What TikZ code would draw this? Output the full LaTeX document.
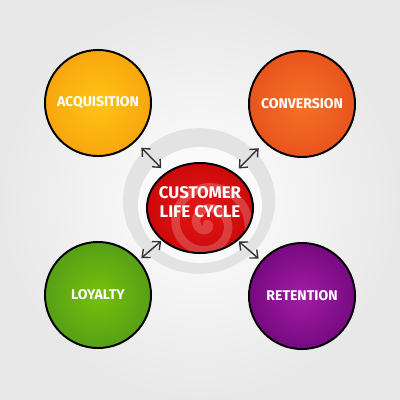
\documentclass[tikz,border=0pt]{standalone}
\usepackage{fontspec}
\setmainfont{Fira Sans}
\usepackage{tikz}
\usetikzlibrary{arrows.meta, shapes.geometric, calc}
\definecolor{acqin}{HTML}{FFC414}
\definecolor{acqout}{HTML}{F8A60E}
\definecolor{conin}{HTML}{F47228}
\definecolor{conout}{HTML}{E9541C}
\definecolor{loyin}{HTML}{78C00C}
\definecolor{loyout}{HTML}{55A016}
\definecolor{retin}{HTML}{A21CA6}
\definecolor{retout}{HTML}{760A80}
\definecolor{lcin}{HTML}{E41616}
\definecolor{lcout}{HTML}{CC0A0A}

\begin{document}
\begin{tikzpicture}[x=0.025cm, y=-0.025cm,
			>={Straight Barb[length=4.5pt,width=8pt]},
			stage/.style={circle, draw=black, line width=1.4pt, minimum size=2.65cm,
				text=white, font=\bfseries\fontsize{10}{12}\selectfont},
			link/.style={<->, draw=black!80, line width=1pt}]
			\useasboundingbox (0,0) rectangle (400,400);
			\shade[inner color=white, outer color=black!9] (0,0) rectangle (400,400);
			\fill[black!11] (199,201) ellipse [x radius=1.9cm, y radius=1.82cm];
			\fill[black!2] (200,205) ellipse [x radius=1.55cm, y radius=1.45cm];
			\node[ellipse, draw=black, line width=1.4pt, minimum width=2.65cm, minimum height=2.25cm,
				inner color=lcin, outer color=lcout] (c) at (200,208) {};
			\begin{scope}
				\clip (200,208) ellipse [x radius=1.3cm, y radius=1.1cm];
				\draw[line width=6pt, white, opacity=0.2, line cap=round]
					plot[domain=0:820, samples=140, smooth] ({207+0.058*\x*cos(\x)}, {224+0.058*\x*sin(\x)});
			\end{scope}
			\node[text=white, align=center, font=\bfseries\fontsize{12}{14}\selectfont] (t) at (200,202) {CUSTOMER\\LIFE CYCLE};
			\node[stage, inner color=acqin, outer color=acqout] (a) at (98,103) {ACQUISITION};
			\node[stage, inner color=conin, outer color=conout] (b) at (302,104) {CONVERSION};
			\node[stage, inner color=loyin, outer color=loyout] (l) at (98,295) {LOYALTY};
			\node[stage, inner color=retin, outer color=retout] (r) at (302,296) {RETENTION};
			\foreach \n in {a,b,l,r}
				\draw[link] ($(c)!0.38!(\n)$) -- ($(c)!0.575!(\n)$);
		\end{tikzpicture}
\end{document}
